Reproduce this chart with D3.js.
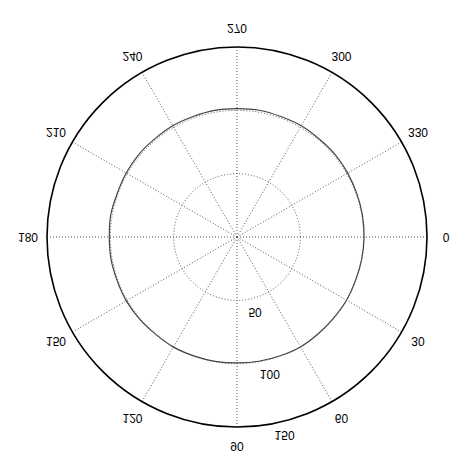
<!DOCTYPE html>
<html>
<head>
<meta charset="utf-8">
<script src="https://cdn.jsdelivr.net/npm/d3@7"></script>
<style>
  body { margin: 0; background: #fff; }
  svg { display: block; }
</style>
</head>
<body>
<svg id="chart" width="474" height="474"></svg>
<script>
// data: angle in degrees, radius values
let angles = d3.range(0, 360, 10);
let radii = [100.3, 100.0, 99.6, 99.8, 99.5, 99.7, 100.2, 99.8, 99.6, 99.4,
             99.7, 99.9, 100.4, 100.1, 100.6, 100.9, 100.7, 101.0, 100.8, 101.2,
             100.6, 101.0, 101.3, 101.1, 101.4, 101.2, 101.5, 101.3, 101.6, 101.2,
             101.4, 101.0, 101.2, 100.9, 100.6, 100.5];
let angleTicks = d3.range(0, 360, 30);
let radialTicks = [50, 100, 150];

let cx = 237, cy = 237, R = 190;
let rScale = d3.scaleLinear().domain([0, 150]).range([0, R]);
let toRad = d => d * Math.PI / 180;

let svg = d3.select("#chart");
let g = svg.append("g").attr("transform", "translate(" + cx + "," + cy + ")");

// spokes
g.selectAll("line.spoke")
  .data(angleTicks)
  .join("line")
  .attr("class", "spoke")
  .attr("x1", 0).attr("y1", 0)
  .attr("x2", d => R * Math.cos(toRad(d)))
  .attr("y2", d => R * Math.sin(toRad(d)))
  .attr("stroke", "#555")
  .attr("stroke-width", 1)
  .attr("stroke-dasharray", "1,2");

// inner rings
g.selectAll("circle.ring")
  .data(radialTicks.slice(0, 2))
  .join("circle")
  .attr("class", "ring")
  .attr("r", d => rScale(d))
  .attr("fill", "none")
  .attr("stroke", "#555")
  .attr("stroke-width", 1)
  .attr("stroke-dasharray", "1,2");

// outer ring
g.append("circle")
  .attr("r", rScale(150))
  .attr("fill", "none")
  .attr("stroke", "#000")
  .attr("stroke-width", 1.6);

// data line
let line = d3.lineRadial()
  .angle((d, i) => toRad(angles[i]) + Math.PI / 2)
  .radius(d => rScale(d))
  .curve(d3.curveCatmullRomClosed);
g.append("path")
  .attr("d", line(radii))
  .attr("fill", "none")
  .attr("stroke", "#444")
  .attr("stroke-width", 1.2);

// labels are drawn mirrored top to bottom, as in the picture
let font = "'Liberation Sans', Arial, sans-serif";
g.selectAll("text.ang")
  .data(angleTicks)
  .join("text")
  .attr("class", "ang")
  .attr("transform", d => "translate(" + (209 * Math.cos(toRad(d))) + "," + (209 * Math.sin(toRad(d))) + ") scale(1,-1)")
  .attr("text-anchor", "middle")
  .attr("dy", "0.35em")
  .attr("font-family", font)
  .attr("font-size", 12)
  .attr("fill", "#000")
  .text(d => d);

let rAng = toRad(76.5);
g.selectAll("text.rad")
  .data(radialTicks)
  .join("text")
  .attr("class", "rad")
  .attr("transform", d => "translate(" + ((rScale(d) + 14) * Math.cos(rAng)) + "," + ((rScale(d) + 14) * Math.sin(rAng)) + ") scale(1,-1)")
  .attr("text-anchor", "middle")
  .attr("dy", "0.35em")
  .attr("font-family", font)
  .attr("font-size", 12)
  .attr("fill", "#000")
  .text(d => d);
</script>
</body>
</html>
